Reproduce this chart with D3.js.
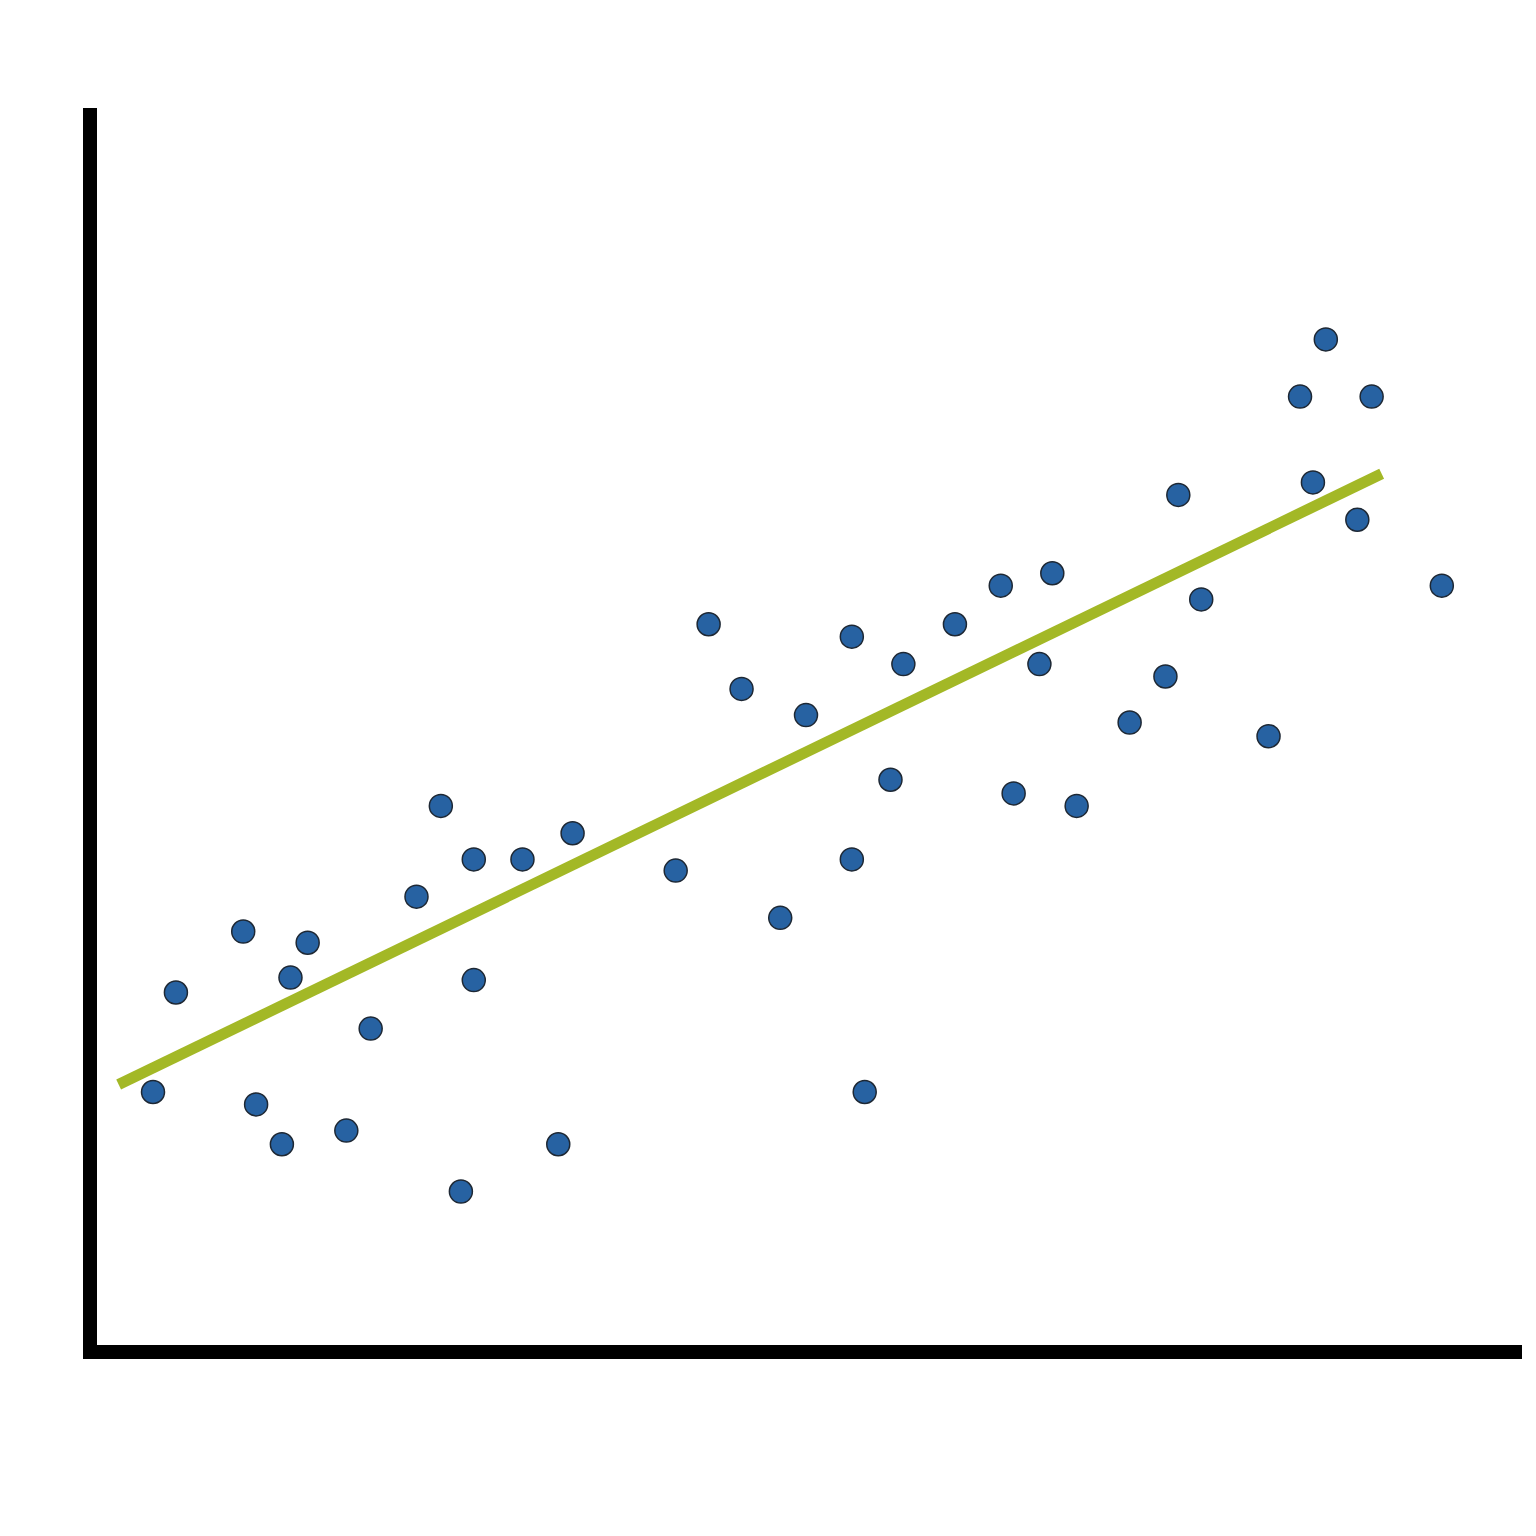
<!DOCTYPE html>
<html>
<head>
<meta charset="utf-8">
<script src="https://cdn.jsdelivr.net/npm/d3@7"></script>
<style>
  html, body { margin: 0; padding: 0; background: #fff; }
</style>
</head>
<body>
<div id="chart"></div>
<script>
// Data (arbitrary 0-100 units, no ticks shown)
var xs = [4.4, 6.0, 10.7, 11.6, 13.4, 14.0, 15.2, 17.9, 19.6, 22.8,
          24.5, 25.9, 26.8, 26.8, 30.2, 32.7, 33.7, 40.9, 43.2, 45.5,
          48.2, 50.0, 53.2, 53.2, 54.1, 55.9, 56.8, 60.4, 63.6, 64.5,
          66.3, 67.2, 68.9, 72.6, 75.1, 76.0, 77.6, 82.3, 84.5, 85.4,
          86.3, 88.5, 89.5, 94.4];
var ys = [20.9, 28.9, 33.8, 19.9, 16.7, 30.1, 32.9, 17.8, 26.0, 36.6,
          43.9, 12.9, 39.6, 29.9, 39.6, 16.7, 41.7, 38.7, 58.5, 53.3,
          34.9, 51.2, 57.5, 39.6, 20.9, 46.0, 55.3, 58.5, 61.6, 44.9,
          55.3, 62.6, 43.9, 50.6, 54.3, 68.9, 60.5, 49.5, 76.8, 69.9,
          81.4, 66.9, 76.8, 61.6];
// Trend line end points
var trendX = [2.0, 90.2];
var trendY = [21.5, 70.6];

var w = 1536, h = 1536;

var svg = d3.select('#chart').append('svg')
  .attr('width', w).attr('height', h);

var x = d3.scaleLinear().domain([0, 100]).range([90, 1522]);
var y = d3.scaleLinear().domain([0, 100]).range([1352, 108]);

var points = xs.map(function(d, i){ return { x: d, y: ys[i] }; });

// Axes: plain heavy lines, no ticks
svg.append('line')
  .attr('x1', x(0)).attr('x2', x(0))
  .attr('y1', y(100)).attr('y2', y(0) + 7)
  .attr('stroke', '#000').attr('stroke-width', 14);

svg.append('line')
  .attr('x1', x(0) - 7).attr('x2', x(100))
  .attr('y1', y(0)).attr('y2', y(0))
  .attr('stroke', '#000').attr('stroke-width', 14);

// Trend line
var trend = trendX.map(function(d, i){ return [d, trendY[i]]; });
svg.append('path')
  .datum(trend)
  .attr('d', d3.line().x(function(d){ return x(d[0]); }).y(function(d){ return y(d[1]); }))
  .attr('fill', 'none')
  .attr('stroke', '#a3b826')
  .attr('stroke-width', 11);

// Dots
svg.selectAll('.dot')
  .data(points)
  .enter().append('circle')
  .attr('class', 'dot')
  .attr('cx', function(d){ return x(d.x); })
  .attr('cy', function(d){ return y(d.y); })
  .attr('r', 11.5)
  .attr('fill', '#2762a2')
  .attr('stroke', '#1e2834')
  .attr('stroke-width', 1.5);
</script>
</body>
</html>
